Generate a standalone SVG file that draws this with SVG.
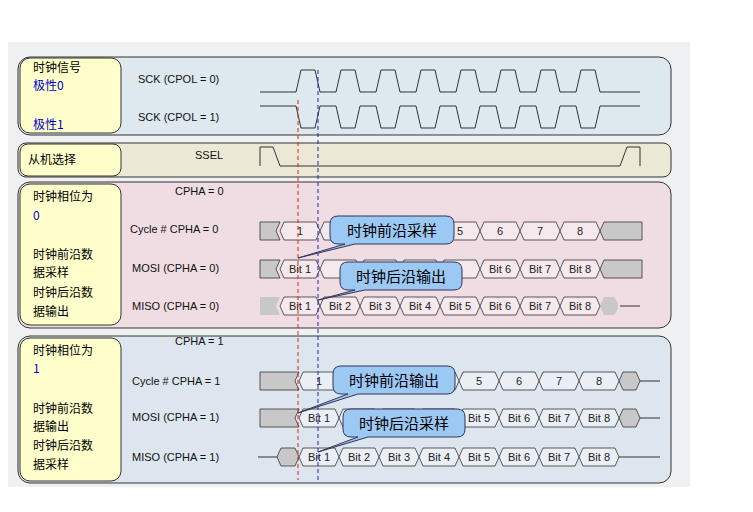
<svg xmlns="http://www.w3.org/2000/svg" xmlns:xlink="http://www.w3.org/1999/xlink" width="753" height="512" viewBox="0 0 753 512">
<style>
.pan{stroke:#333;stroke-width:1}
.lab{fill:#ffffcc;stroke:#333;stroke-width:1}
.cn{font-family:"Noto Sans CJK SC",sans-serif;font-size:12px;fill:#000}
.bl{fill:#0000cc}
.sig{font-family:"Liberation Sans",Arial,sans-serif;font-size:11px;fill:#111}
.ct{font-family:"Liberation Sans",Arial,sans-serif;font-size:11px;fill:#222;text-anchor:middle}
.w{fill:none;stroke:#333;stroke-width:1}
.cell{fill:#fff;fill-opacity:0.35;stroke:#333;stroke-width:0.8}
.g{fill:#c8c8c8;stroke:#333;stroke-width:0.8}
.co{fill:#9cc8f4;stroke:#335;stroke-width:1}
.cot{font-family:"Noto Sans CJK SC",sans-serif;font-size:15px;fill:#000;text-anchor:middle}
</style>
<defs>
<path id="c" d="M0,0 L4,-9 L36,-9 L40,0 L36,9 L4,9 Z" class="cell"/>
</defs>
<rect x="8" y="42" width="682" height="445" fill="#eef0f2"/>
<g id="panel-clock"><rect x="18" y="57" width="653" height="78" rx="12" fill="#dde9ee" class="pan"/><rect x="20" y="58" width="101" height="75" rx="10" class="lab"/>
<text x="33" y="72" class="cn">时钟信号</text><text x="33" y="90" class="cn bl">极性0</text><text x="33" y="129" class="cn bl">极性1</text>
<text x="138" y="83" class="sig">SCK (CPOL = 0)</text><text x="138" y="121" class="sig">SCK (CPOL = 1)</text>
<path class="w" d="M260,92 H296 L301,70 H315 L320,92 H336 L341,70 H355 L360,92 H376 L381,70 H395 L400,92 H416 L421,70 H435 L440,92 H456 L461,70 H475 L480,92 H496 L501,70 H515 L520,92 H536 L541,70 H555 L560,92 H576 L581,70 H595 L600,92 H640"/>
<path class="w" d="M260,106 H296 L301,128 H315 L320,106 H336 L341,128 H355 L360,106 H376 L381,128 H395 L400,106 H416 L421,128 H435 L440,106 H456 L461,128 H475 L480,106 H496 L501,128 H515 L520,106 H536 L541,128 H555 L560,106 H576 L581,128 H595 L600,106 H640"/></g>
<g id="panel-ssel"><rect x="18" y="143" width="653" height="34" rx="8" fill="#ece8d6" class="pan"/><rect x="20" y="144" width="101" height="32" rx="8" class="lab"/>
<text x="28" y="164" class="cn">从机选择</text><text x="195" y="159" class="sig">SSEL</text>
<path class="w" d="M260,166 V147 H273 L280,166 H620 L627,147 H640 V166"/></g>
<g id="panel-cpha0"><rect x="18" y="182" width="653" height="146" rx="12" fill="#f0dde4" class="pan"/><rect x="20" y="184" width="101" height="141" rx="10" class="lab"/>
<text x="33" y="201" class="cn">时钟相位为</text><text x="33" y="220" class="cn bl">0</text>
<text x="33" y="259" class="cn">时钟前沿数</text><text x="33" y="277" class="cn">据采样</text><text x="33" y="297" class="cn">时钟后沿数</text><text x="33" y="316" class="cn">据输出</text>
<text x="175" y="195" class="sig">CPHA = 0</text><text x="130" y="233" class="sig">Cycle # CPHA = 0</text><text x="132" y="272" class="sig">MOSI (CPHA = 0)</text><text x="132" y="310" class="sig">MISO (CPHA = 0)</text>
<path class="g" d="M260,222 H280 L276,231 L280,240 H260 Z"/><path class="g" d="M604,222 H642 V240 H604 L600,231 Z"/>
<path class="g" d="M260,260 H280 L276,269 L280,278 H260 Z"/><path class="g" d="M604,260 H642 V278 H604 L600,269 Z"/>
<path class="g" d="M260,297 H280 L276,306 L280,315 H260 Z" style="stroke:none"/><path class="g" d="M604,297 H614 Q622,306 614,315 H604 L600,306 Z" style="stroke:none"/><path class="w" d="M620,306 H640"/>
<g transform="translate(280,231)"><use href="#c"/><use href="#c" x="40"/><use href="#c" x="80"/><use href="#c" x="120"/><use href="#c" x="160"/><use href="#c" x="200"/><use href="#c" x="240"/><use href="#c" x="280"/>
<text class="ct" x="20" y="4">1</text><text class="ct" x="180" y="4">5</text><text class="ct" x="220" y="4">6</text><text class="ct" x="260" y="4">7</text><text class="ct" x="300" y="4">8</text></g>
<g transform="translate(280,269)"><use href="#c"/><use href="#c" x="40"/><use href="#c" x="80"/><use href="#c" x="120"/><use href="#c" x="160"/><use href="#c" x="200"/><use href="#c" x="240"/><use href="#c" x="280"/>
<text class="ct" x="20" y="4">Bit 1</text><text class="ct" x="220" y="4">Bit 6</text><text class="ct" x="260" y="4">Bit 7</text><text class="ct" x="300" y="4">Bit 8</text></g>
<g transform="translate(280,306)"><use href="#c"/><use href="#c" x="40"/><use href="#c" x="80"/><use href="#c" x="120"/><use href="#c" x="160"/><use href="#c" x="200"/><use href="#c" x="240"/><use href="#c" x="280"/>
<text class="ct" x="20" y="4">Bit 1</text><text class="ct" x="60" y="4">Bit 2</text><text class="ct" x="100" y="4">Bit 3</text><text class="ct" x="140" y="4">Bit 4</text><text class="ct" x="180" y="4">Bit 5</text><text class="ct" x="220" y="4">Bit 6</text><text class="ct" x="260" y="4">Bit 7</text><text class="ct" x="300" y="4">Bit 8</text></g></g>
<g id="panel-cpha1"><rect x="18" y="336" width="653" height="147" rx="12" fill="#dde6ef" class="pan"/><rect x="20" y="338" width="101" height="143" rx="10" class="lab"/>
<text x="33" y="355" class="cn">时钟相位为</text><text x="33" y="373" class="cn bl">1</text>
<text x="33" y="413" class="cn">时钟前沿数</text><text x="33" y="431" class="cn">据输出</text><text x="33" y="450" class="cn">时钟后沿数</text><text x="33" y="469" class="cn">据采样</text>
<text x="175" y="345" class="sig">CPHA = 1</text><text x="132" y="385" class="sig">Cycle # CPHA = 1</text><text x="132" y="421" class="sig">MOSI (CPHA = 1)</text><text x="132" y="461" class="sig">MISO (CPHA = 1)</text>
<path class="g" d="M260,372 H299 L295,381 L299,390 H260 Z"/><path class="g" d="M623,372 H636 L640,381 L636,390 H623 L619,381 Z"/><path class="w" d="M640,381 H660"/>
<path class="g" d="M260,409 H299 L295,418 L299,427 H260 Z"/><path class="g" d="M623,409 H636 L640,418 L636,427 H623 L619,418 Z"/><path class="w" d="M640,418 H660"/>
<path class="w" d="M258,457 H277"/><path class="g" d="M281,448 H295 L299,457 L295,466 H281 L277,457 Z"/><path class="w" d="M619,457 H660"/>
<g transform="translate(299,381)"><use href="#c"/><use href="#c" x="40"/><use href="#c" x="80"/><use href="#c" x="120"/><use href="#c" x="160"/><use href="#c" x="200"/><use href="#c" x="240"/><use href="#c" x="280"/>
<text class="ct" x="20" y="4">1</text><text class="ct" x="180" y="4">5</text><text class="ct" x="220" y="4">6</text><text class="ct" x="260" y="4">7</text><text class="ct" x="300" y="4">8</text></g>
<g transform="translate(299,418)"><use href="#c"/><use href="#c" x="40"/><use href="#c" x="80"/><use href="#c" x="120"/><use href="#c" x="160"/><use href="#c" x="200"/><use href="#c" x="240"/><use href="#c" x="280"/>
<text class="ct" x="20" y="4">Bit 1</text><text class="ct" x="180" y="4">Bit 5</text><text class="ct" x="220" y="4">Bit 6</text><text class="ct" x="260" y="4">Bit 7</text><text class="ct" x="300" y="4">Bit 8</text></g>
<g transform="translate(299,457)"><use href="#c"/><use href="#c" x="40"/><use href="#c" x="80"/><use href="#c" x="120"/><use href="#c" x="160"/><use href="#c" x="200"/><use href="#c" x="240"/><use href="#c" x="280"/>
<text class="ct" x="20" y="4">Bit 1</text><text class="ct" x="60" y="4">Bit 2</text><text class="ct" x="100" y="4">Bit 3</text><text class="ct" x="140" y="4">Bit 4</text><text class="ct" x="180" y="4">Bit 5</text><text class="ct" x="220" y="4">Bit 6</text><text class="ct" x="260" y="4">Bit 7</text><text class="ct" x="300" y="4">Bit 8</text></g></g>
<g id="connectors">
<line x1="298" y1="100" x2="298" y2="480" stroke="#e02020" stroke-dasharray="4,3"/>
<line x1="318" y1="70" x2="318" y2="480" stroke="#2020c0" stroke-dasharray="4,3"/>
</g>
<g id="callout-1"><path class="co" d="M338,216 H446 Q454,216 454,224 V236 Q454,244 446,244 H355 L298,258 L345,244 H338 Q330,244 330,236 V224 Q330,216 338,216 Z"/><text class="cot" x="392" y="236">时钟前沿采样</text></g>
<g id="callout-2"><path class="co" d="M348,262 H454 Q462,262 462,270 V282 Q462,290 454,290 H365 L318,300 L355,290 H348 Q340,290 340,282 V270 Q340,262 348,262 Z"/><text class="cot" x="401" y="282">时钟后沿输出</text></g>
<g id="callout-3"><path class="co" d="M341,366 H447 Q455,366 455,374 V386 Q455,394 447,394 H358 L298,413 L348,394 H341 Q333,394 333,386 V374 Q333,366 341,366 Z"/><text class="cot" x="394" y="386">时钟前沿输出</text></g>
<g id="callout-4"><path class="co" d="M351,409 H457 Q465,409 465,417 V429 Q465,437 457,437 H368 L318,452 L358,437 H351 Q343,437 343,429 V417 Q343,409 351,409 Z"/><text class="cot" x="404" y="429">时钟后沿采样</text></g>
</svg>
